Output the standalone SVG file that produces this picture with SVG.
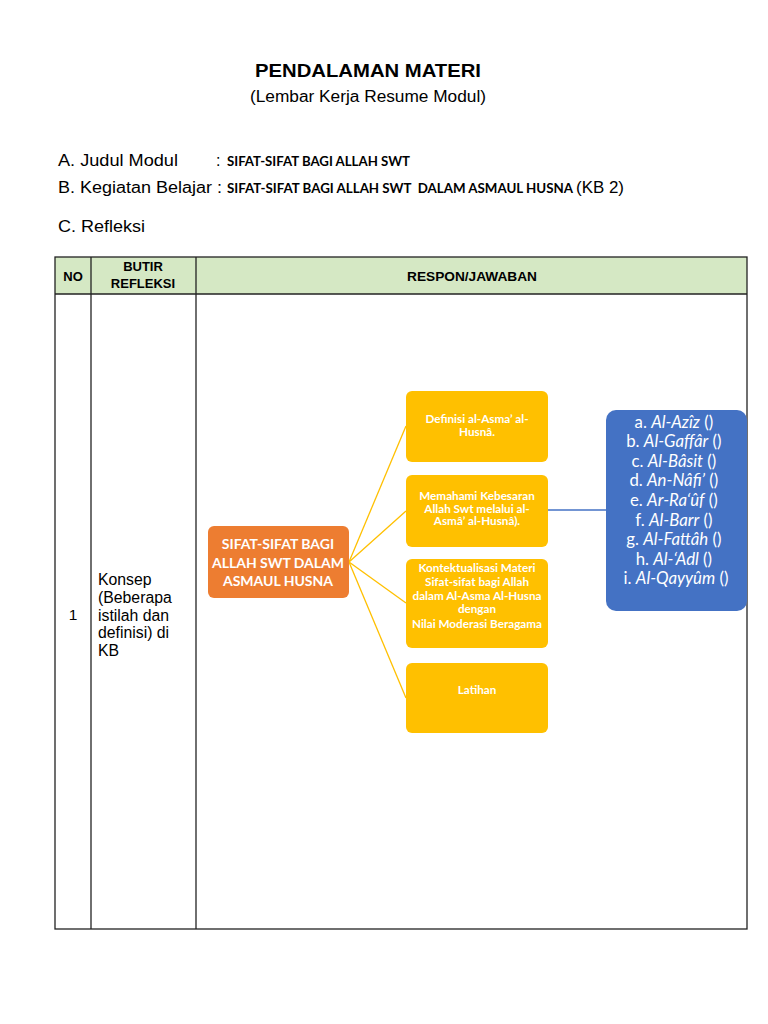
<svg xmlns="http://www.w3.org/2000/svg" width="768" height="1024" viewBox="0 0 768 1024">
<style>
.sans{font-family:"Liberation Sans",Arial,sans-serif;fill:#000}
.cal{font-family:Lato,"Open Sans",sans-serif;font-weight:bold;fill:#000}
.hdr{font-family:"Liberation Sans",Arial,sans-serif;font-weight:bold;font-size:13px;fill:#000;text-anchor:middle}
.grid{stroke:#222;stroke-width:1.3;fill:none}
.ybox{fill:#FFC000}
.ytxt{font-family:Lato,"Open Sans",sans-serif;font-weight:bold;font-size:11.7px;fill:#fff;text-anchor:middle}
.otxt{font-family:Lato,"Open Sans",sans-serif;font-weight:bold;font-size:14px;fill:#fff;text-anchor:middle}
.btxt{font-family:Lato,"Open Sans",sans-serif;font-size:16.8px;fill:#fff;text-anchor:middle}
.yl{stroke:#FFC000;stroke-width:1.3;fill:none}
</style>
<rect width="768" height="1024" fill="#fff"/>
<g id="heading">
<text class="sans" x="255" y="77" font-size="18" font-weight="bold" textLength="226" lengthAdjust="spacingAndGlyphs">PENDALAMAN MATERI</text>
<text class="sans" x="250" y="102" font-size="16" textLength="236" lengthAdjust="spacingAndGlyphs">(Lembar Kerja Resume Modul)</text>
<text class="sans" x="58" y="166" font-size="16" textLength="120" lengthAdjust="spacingAndGlyphs">A. Judul Modul</text>
<text class="sans" x="216" y="166" font-size="16">:</text>
<text class="cal" x="227" y="166" font-size="12.5" textLength="183" lengthAdjust="spacingAndGlyphs">SIFAT-SIFAT BAGI ALLAH SWT</text>
<text class="sans" x="58" y="193" font-size="16" textLength="164" lengthAdjust="spacingAndGlyphs">B. Kegiatan Belajar :</text>
<text class="cal" x="227" y="193" font-size="12.5" textLength="346" lengthAdjust="spacingAndGlyphs">SIFAT-SIFAT BAGI ALLAH SWT&#160; DALAM ASMAUL HUSNA</text>
<text class="sans" x="576" y="193" font-size="16" textLength="48" lengthAdjust="spacingAndGlyphs">(KB 2)</text>
<text class="sans" x="58" y="232" font-size="16" textLength="87" lengthAdjust="spacingAndGlyphs">C. Refleksi</text>
</g>
<g id="table">
<rect x="55" y="257" width="692" height="37" fill="#D5E8C4"/>
<rect class="grid" x="55" y="257" width="692" height="672"/>
<line class="grid" x1="55" y1="294" x2="747" y2="294"/>
<line class="grid" x1="91" y1="257" x2="91" y2="929"/>
<line class="grid" x1="196" y1="257" x2="196" y2="929"/>
<text class="hdr" x="73" y="281">NO</text>
<text class="hdr" x="143" y="271">BUTIR</text>
<text class="hdr" x="143" y="288">REFLEKSI</text>
<text class="hdr" x="472" y="281" textLength="130" lengthAdjust="spacingAndGlyphs">RESPON/JAWABAN</text>
<text class="sans" x="73" y="620" font-size="15.5" text-anchor="middle">1</text>
<text class="sans" font-size="15.8"><tspan x="98" y="585">Konsep</tspan><tspan x="98" y="603">(Beberapa</tspan><tspan x="98" y="621">istilah dan</tspan><tspan x="98" y="638">definisi) di</tspan><tspan x="98" y="656">KB</tspan></text>
</g>
<g id="connectors">
<line class="yl" x1="349" y1="562" x2="406" y2="426"/>
<line class="yl" x1="349" y1="562" x2="406" y2="511"/>
<line class="yl" x1="349" y1="562" x2="406" y2="603"/>
<line class="yl" x1="349" y1="562" x2="406" y2="698"/>
<line x1="548" y1="510" x2="606" y2="510" stroke="#4472C4" stroke-width="1.6"/>
</g>
<g id="root">
<rect x="208" y="526" width="141" height="72" rx="6" fill="#ED7D31"/>
<text class="otxt"><tspan x="278" y="549">SIFAT-SIFAT BAGI</tspan><tspan x="278" y="568">ALLAH SWT DALAM</tspan><tspan x="278" y="586">ASMAUL HUSNA</tspan></text>
</g>
<g id="n1">
<rect class="ybox" x="406" y="391" width="142" height="71" rx="6"/>
<text class="ytxt"><tspan x="477" y="423">Definisi al-Asma’ al-</tspan><tspan x="477" y="436">Husnâ.</tspan></text>
</g>
<g id="n2">
<rect class="ybox" x="406" y="475" width="142" height="72" rx="6"/>
<text class="ytxt"><tspan x="477" y="500">Memahami Kebesaran</tspan><tspan x="477" y="512.5">Allah Swt melalui al-</tspan><tspan x="477" y="525">Asmâ’ al-Husnâ).</tspan></text>
</g>
<g id="n3">
<rect class="ybox" x="406" y="559" width="142" height="89" rx="6"/>
<text class="ytxt"><tspan x="477" y="572">Kontektualisasi Materi</tspan><tspan x="477" y="586">Sifat-sifat bagi Allah</tspan><tspan x="477" y="600">dalam Al-Asma Al-Husna</tspan><tspan x="477" y="613">dengan</tspan><tspan x="477" y="628">Nilai Moderasi Beragama</tspan></text>
</g>
<g id="n4">
<rect class="ybox" x="406" y="663" width="142" height="70" rx="6"/>
<text class="ytxt" x="477" y="694">Latihan</text>
</g>
<g id="names">
<rect x="606" y="410" width="141" height="201" rx="10" fill="#4472C4"/>
<text class="btxt">
<tspan x="676" y="428">a. <tspan font-style="italic">Al-Azîz</tspan> ()</tspan>
<tspan x="676" y="447">b. <tspan font-style="italic">Al-Gaffâr</tspan> ()</tspan>
<tspan x="676" y="467">c. <tspan font-style="italic">Al-Bâsit</tspan> ()</tspan>
<tspan x="676" y="486">d. <tspan font-style="italic">An-Nâfi’</tspan> ()</tspan>
<tspan x="676" y="506">e. <tspan font-style="italic">Ar-Ra‘ûf</tspan> ()</tspan>
<tspan x="676" y="526">f. <tspan font-style="italic">Al-Barr</tspan> ()</tspan>
<tspan x="676" y="545">g. <tspan font-style="italic">Al-Fattâh</tspan> ()</tspan>
<tspan x="676" y="565">h. <tspan font-style="italic">Al-‘Adl</tspan> ()</tspan>
<tspan x="676" y="584">i. <tspan font-style="italic">Al-Qayyûm</tspan> ()</tspan>
</text>
</g>
</svg>
